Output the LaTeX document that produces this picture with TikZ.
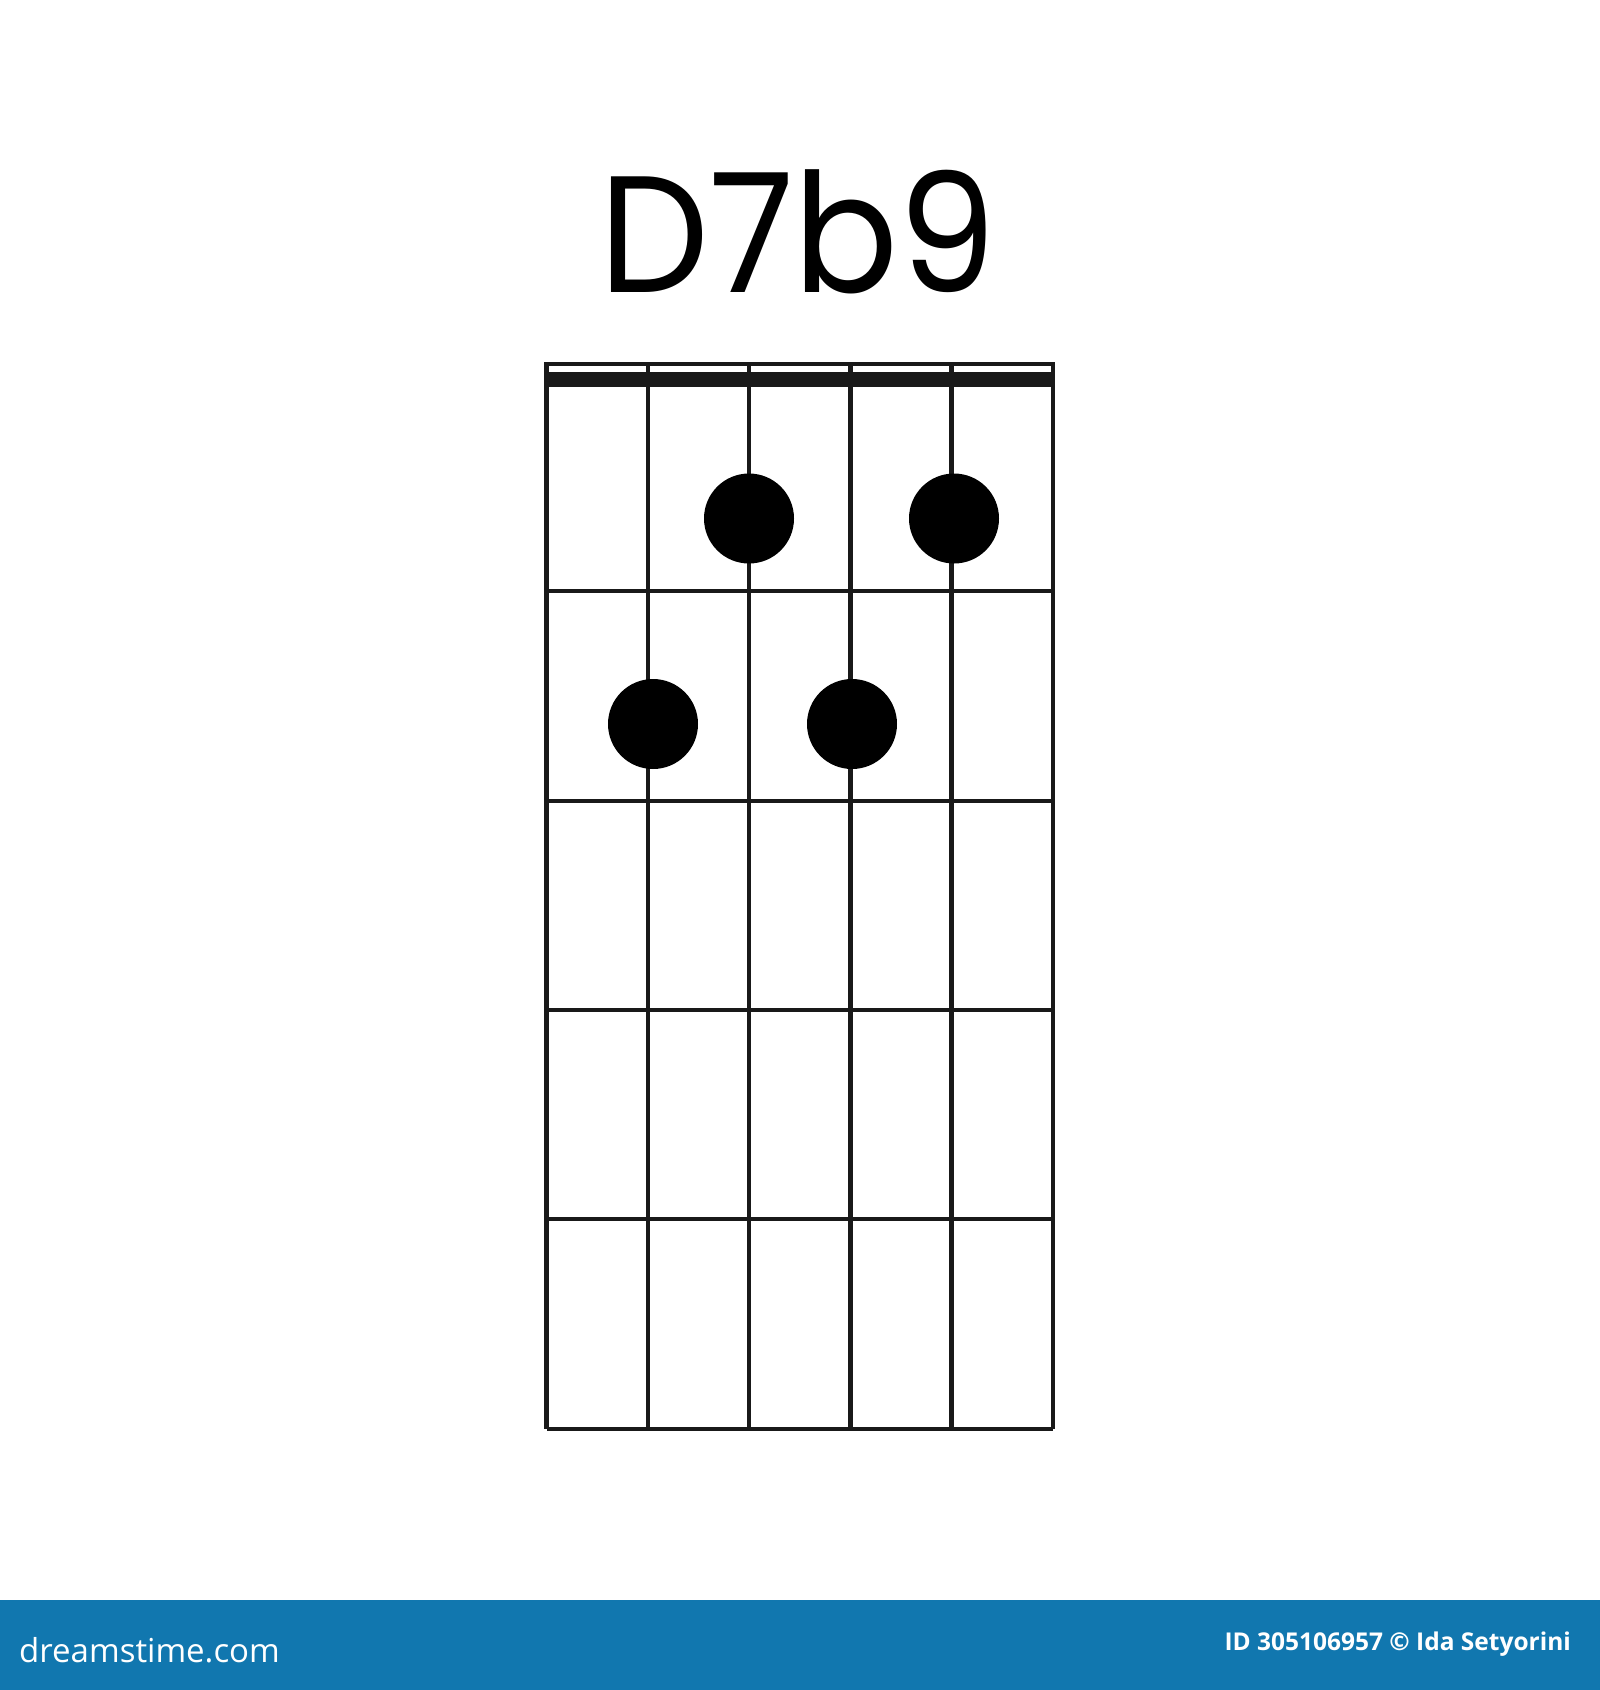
\documentclass[tikz,border=0pt]{standalone}
\usepackage{fontspec}
\setmainfont{Poppins}
\newfontfamily\bannerfont{Open Sans}
\usetikzlibrary{positioning}

\definecolor{bannerblue}{RGB}{17,119,175}

\begin{document}
\begin{tikzpicture}[x=1pt, y=-1pt,
    fretline/.style={line width=4.5pt, black!90},
    stringline/.style={line width=4.5pt, black!90},
    finger/.style={circle, fill=black, inner sep=0pt, minimum size=90pt}
]
    \useasboundingbox (0,0) rectangle (1600,1690);
    \fill[white] (0,0) rectangle (1600,1690);

    % chord name
    \node[font=\fontsize{166}{166}\selectfont, inner sep=0pt] (title) at (798,232) {\scalebox{0.935}[1]{D7b9}};

    % strings
    \foreach \s in {0,...,5}
        \draw[stringline] ({546.5+101.3*\s},362) -- ({546.5+101.3*\s},1429);

    % nut and frets
    \draw[fretline] (546.5,364) -- (1053,364);
    \fill[black!90] (546.5,372) rectangle (1053,387);
    \foreach \f in {591,801,1010,1219,1429}
        \draw[fretline] (546.5,\f) -- (1053,\f);

    % fingers
    \node[finger] (f1) at (749,518.5) {};
    \node[finger] (f2) at (954,518.5) {};
    \node[finger] (f3) at (653,724) {};
    \node[finger] (f4) at (852,724) {};

    % banner
    \fill[bannerblue] (0,1600) rectangle (1600,1690);
    \node[font=\bannerfont\fontsize{33}{33}\selectfont, text=white, anchor=west, inner sep=0pt] (logo) at (19,1650) {dreamstime.com};
    \node[font=\bannerfont\bfseries\fontsize{24.5}{24.5}\selectfont, text=white, anchor=east, inner sep=0pt] (credit) at (1571,1644) {ID 305106957 © Ida Setyorini};
\end{tikzpicture}
\end{document}
